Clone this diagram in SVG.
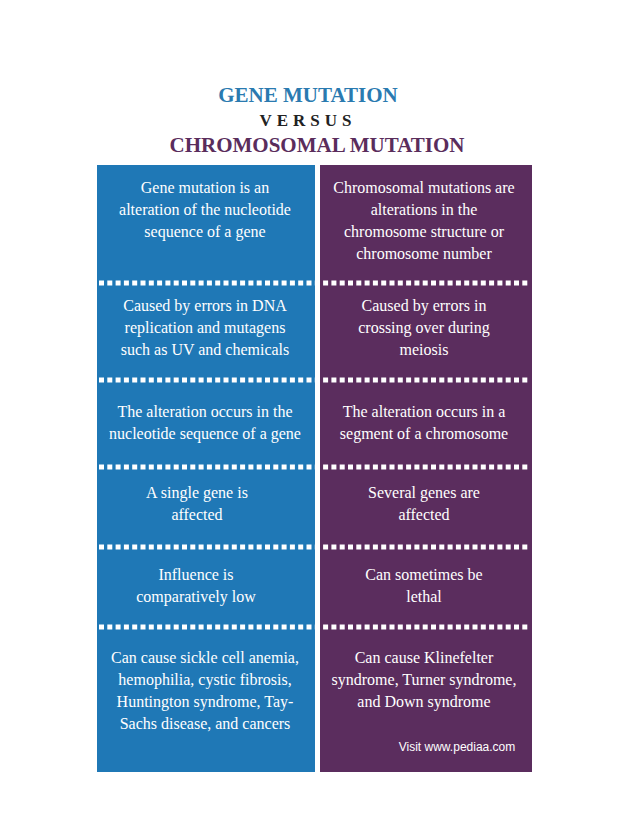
<svg xmlns="http://www.w3.org/2000/svg" width="638" height="826" viewBox="0 0 638 826">
<style>
.t{font-family:"Liberation Serif",serif;font-size:16px;fill:#fff;text-anchor:middle}
.h{font-family:"Liberation Serif",serif;font-weight:bold;text-anchor:middle}
.d{stroke:#fff;stroke-width:5;stroke-dasharray:5 3.3}
</style>
<rect width="638" height="826" fill="#fff"/>
<g id="title">
<text class="h" x="308" y="102" font-size="21" fill="#2a7ab0">GENE MUTATION</text>
<text class="h" x="308" y="126" font-size="17" fill="#222" letter-spacing="5">VERSUS</text>
<text class="h" x="317" y="152" font-size="21" fill="#5a2d5c">CHROMOSOMAL MUTATION</text>
</g>
<g id="gene"><rect x="97" y="165" width="218" height="607" fill="#1f78b6"/></g>
<g id="chromo"><rect x="320" y="165" width="212" height="607" fill="#5b2d5e"/></g>
<g id="sep">
<line class="d" x1="99" y1="283" x2="530" y2="283"/>
<line class="d" x1="99" y1="380" x2="530" y2="380"/>
<line class="d" x1="99" y1="467" x2="530" y2="467"/>
<line class="d" x1="99" y1="547" x2="530" y2="547"/>
<line class="d" x1="99" y1="627" x2="530" y2="627"/>
</g>
<g id="left">
<text class="t" x="205" y="193">Gene mutation is an</text>
<text class="t" x="205" y="215">alteration of the nucleotide</text>
<text class="t" x="205" y="237">sequence of a gene</text>
<text class="t" x="205" y="311">Caused by errors in DNA</text>
<text class="t" x="205" y="333">replication and mutagens</text>
<text class="t" x="205" y="355">such as UV and chemicals</text>
<text class="t" x="205" y="417">The alteration occurs in the</text>
<text class="t" x="205" y="439">nucleotide sequence of a gene</text>
<text class="t" x="197" y="498">A single gene is</text>
<text class="t" x="197" y="520">affected</text>
<text class="t" x="196" y="580">Influence is</text>
<text class="t" x="196" y="602">comparatively low</text>
<text class="t" x="205" y="663">Can cause sickle cell anemia,</text>
<text class="t" x="205" y="685">hemophilia, cystic fibrosis,</text>
<text class="t" x="205" y="707">Huntington syndrome, Tay-</text>
<text class="t" x="205" y="729">Sachs disease, and cancers</text>
</g>
<g id="right">
<text class="t" x="424" y="193">Chromosomal mutations are</text>
<text class="t" x="424" y="215">alterations in the</text>
<text class="t" x="424" y="237">chromosome structure or</text>
<text class="t" x="424" y="259">chromosome number</text>
<text class="t" x="424" y="311">Caused by errors in</text>
<text class="t" x="424" y="333">crossing over during</text>
<text class="t" x="424" y="355">meiosis</text>
<text class="t" x="424" y="417">The alteration occurs in a</text>
<text class="t" x="424" y="439">segment of a chromosome</text>
<text class="t" x="424" y="498">Several genes are</text>
<text class="t" x="424" y="520">affected</text>
<text class="t" x="424" y="580">Can sometimes be</text>
<text class="t" x="424" y="602">lethal</text>
<text class="t" x="424" y="663">Can cause Klinefelter</text>
<text class="t" x="424" y="685">syndrome, Turner syndrome,</text>
<text class="t" x="424" y="707">and Down syndrome</text>
<text x="457" y="751" font-family="'Liberation Sans',sans-serif" font-size="12" fill="#fff" text-anchor="middle">Visit www.pediaa.com</text>
</g>
</svg>
